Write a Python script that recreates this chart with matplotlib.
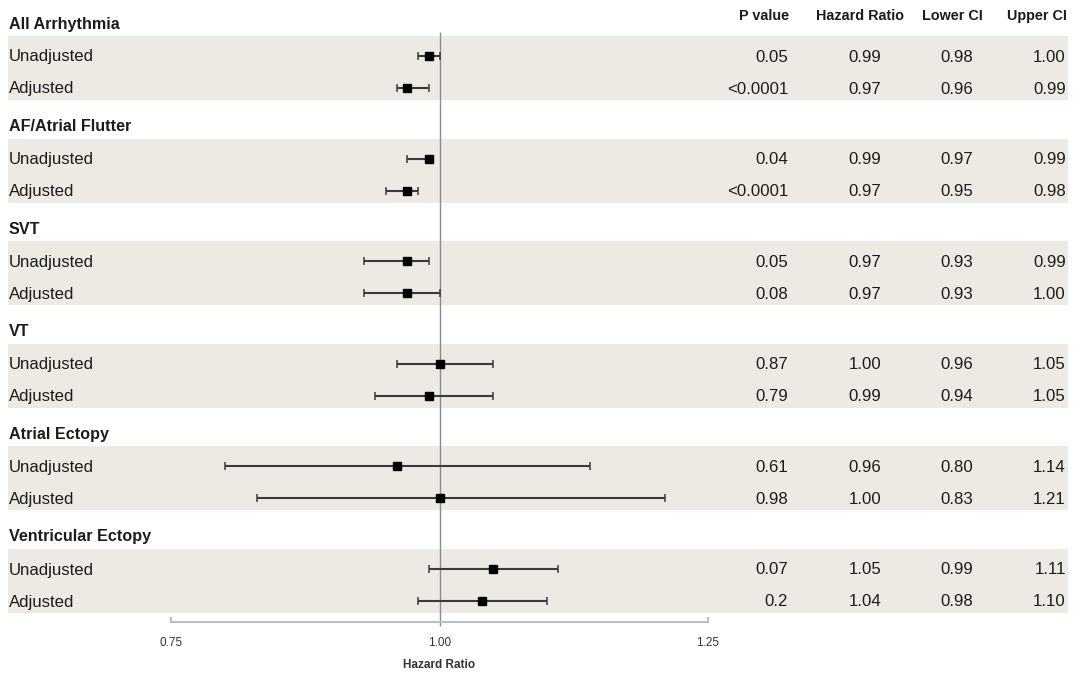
import matplotlib.pyplot as plt
from matplotlib import font_manager
from matplotlib.transforms import blended_transform_factory

# data
groups = ['All Arrhythmia', 'AF/Atrial Flutter', 'SVT', 'VT', 'Atrial Ectopy', 'Ventricular Ectopy']
models = ['Unadjusted', 'Adjusted']
p_values = [['0.05', '<0.0001'], ['0.04', '<0.0001'], ['0.05', '0.08'],
            ['0.87', '0.79'], ['0.61', '0.98'], ['0.07', '0.2']]
hr = [[0.99, 0.97], [0.99, 0.97], [0.97, 0.97], [1.00, 0.99], [0.96, 1.00], [1.05, 1.04]]
lower = [[0.98, 0.96], [0.97, 0.95], [0.93, 0.93], [0.96, 0.94], [0.80, 0.83], [0.99, 0.98]]
upper = [[1.00, 0.99], [0.99, 0.98], [0.99, 1.00], [1.05, 1.05], [1.14, 1.21], [1.11, 1.10]]
col_heads = ['P value', 'Hazard Ratio', 'Lower CI', 'Upper CI']
xticks = [0.75, 1.00, 1.25]

names = {f.name for f in font_manager.fontManager.ttflist}
narrow = 'Liberation Sans Narrow' in names
fam = 'Liberation Sans Narrow' if narrow else 'Liberation Sans'
plt.rcParams['font.family'] = [fam, 'DejaVu Sans']
k = 1.0 if narrow else 0.86  # shrink a wide font so widths stay close

W, H = 1074, 678
fig = plt.figure(figsize=(W / 100, H / 100), dpi=100)
ax = fig.add_axes([0, 0, 1, 1])
x0 = 0.75 - 171 / W
ax.set_xlim(x0, x0 + 1)
ax.set_ylim(H, 0)
ax.axis('off')
tr = blended_transform_factory(ax.transAxes, ax.transData)

band_h = 64
step = 102.6
txt = '#1c1c1c'

for g, name in enumerate(groups):
    top = 36 + step * g
    ax.axhspan(top, top + band_h, xmin=8 / W, xmax=1068 / W, color='#ECEAE2', lw=0, zorder=0)
    ax.text(9 / W, top - 12, name, transform=tr, fontsize=13.5 * k, fontweight='bold',
            color=txt, ha='left', va='center')
    for m, model in enumerate(models):
        y = top + 21 + 32 * m
        ax.text(9 / W, y, model, transform=tr, fontsize=14 * k, color=txt, ha='left', va='center')
        h = hr[g][m]
        ax.errorbar([h], [y - 1], xerr=[[h - lower[g][m]], [upper[g][m] - h]], fmt='s',
                    color='black', ecolor='#3a3a3a', elinewidth=1.5, capsize=3,
                    capthick=1.1, ms=5.8, zorder=3)
        vals = [p_values[g][m], f'{h:.2f}', f'{lower[g][m]:.2f}', f'{upper[g][m]:.2f}']
        for xr, v in zip([788, 881, 973, 1066], vals):
            ax.text(xr / W, y, v, transform=tr, fontsize=14 * k, color=txt, ha='right', va='center')

for xr, head in zip([789, 904, 983, 1067], col_heads):
    ax.text(xr / W, 16, head, transform=tr, fontsize=12 * k, fontweight='bold',
            color=txt, ha='right', va='center')

# reference line and x axis
ax.vlines(1.0, 32, 626, color='#8c8c8c', lw=1, zorder=2)
ax.plot([xticks[0], xticks[-1]], [622, 622], color='#bdbdbd', lw=1.5)
ax.vlines([xticks[0], xticks[-1]], 617, 622, color='#bdbdbd', lw=1.5)
for t in xticks:
    ax.text(t, 643, f'{t:.2f}', fontsize=8.5, color='#333333', ha='center', va='center')
ax.text(1.0, 665, 'Hazard Ratio', fontsize=8.5, fontweight='bold', color='#333333',
        ha='center', va='center')

fig.savefig('out.png', dpi=100)
